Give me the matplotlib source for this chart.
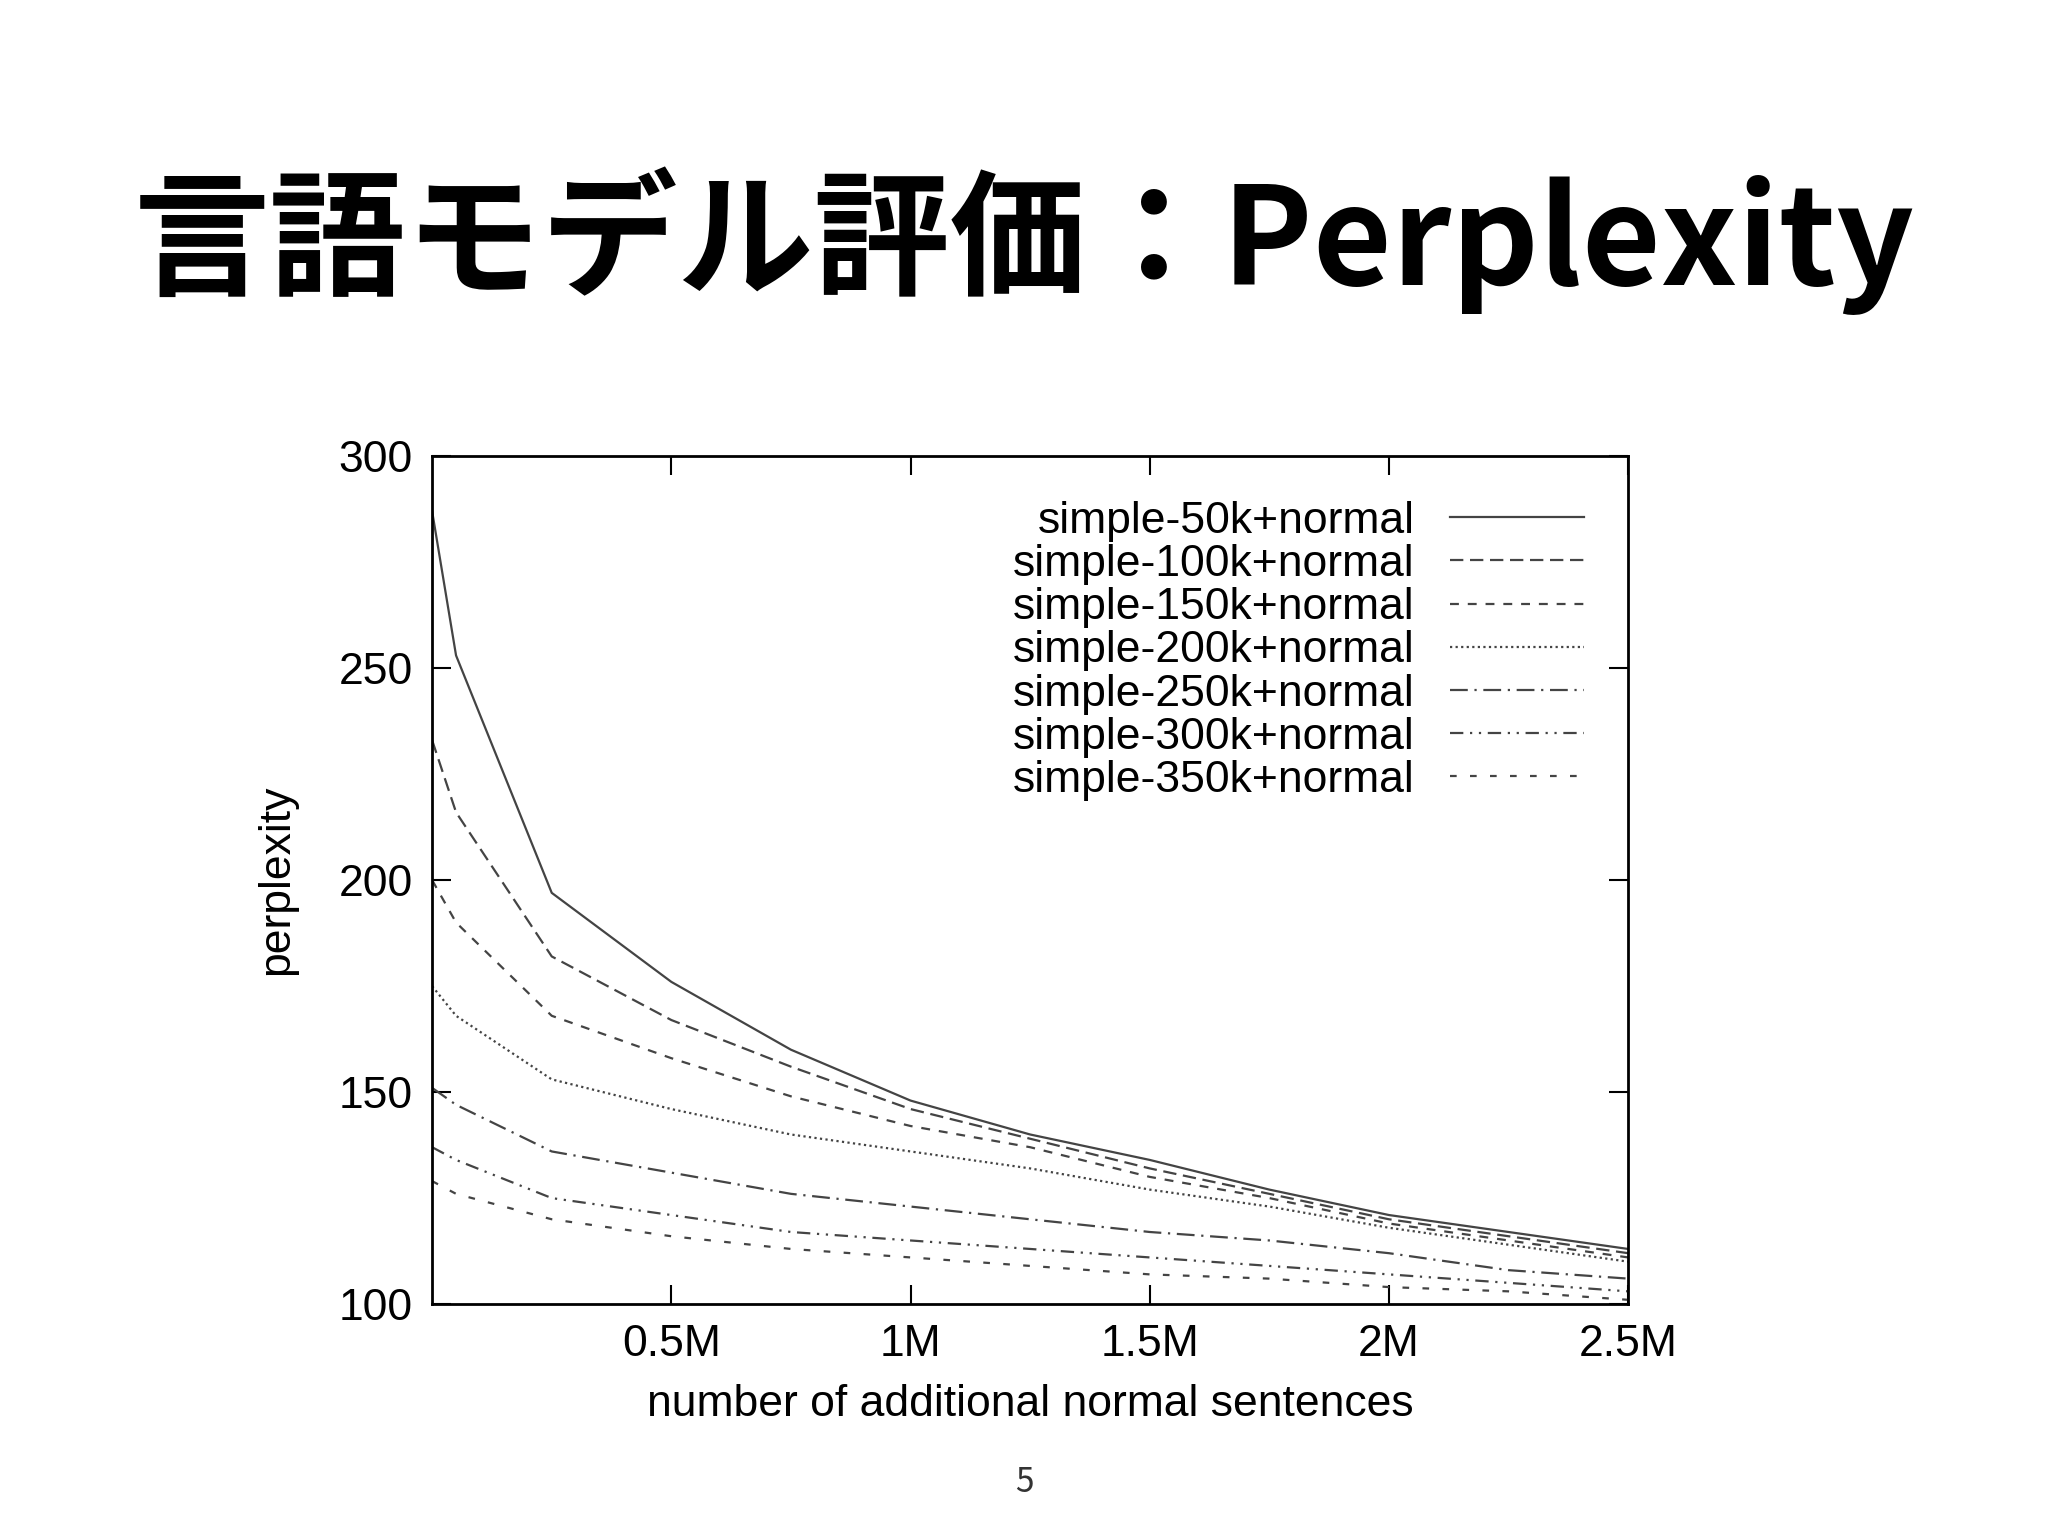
import matplotlib
matplotlib.use('Agg')
import matplotlib.pyplot as plt

plt.rcParams['font.family'] = ['Noto Sans CJK JP', 'DejaVu Sans']

x = [0, 0.05, 0.25, 0.5, 0.75, 1.0, 1.25, 1.5, 1.75, 2.0, 2.25, 2.5]
labels = ['simple-50k+normal', 'simple-100k+normal', 'simple-150k+normal',
          'simple-200k+normal', 'simple-250k+normal', 'simple-300k+normal',
          'simple-350k+normal']
s50 = [287, 253, 197, 176, 160, 148, 140, 134, 127, 121, 117, 113]
s100 = [233, 216, 182, 167, 156, 146, 139, 132, 126, 120, 116, 112]
s150 = [200, 190, 168, 158, 149, 142, 137, 130, 125, 119, 115, 111]
s200 = [175, 168, 153, 146, 140, 136, 132, 127, 123, 118, 114, 110]
s250 = [151, 147, 136, 131, 126, 123, 120, 117, 115, 112, 108, 106]
s300 = [137, 134, 125, 121, 117, 115, 113, 111, 109, 107, 105, 103]
s350 = [129, 126, 120, 116, 113, 111, 109, 107, 106, 104, 103, 101]
series = [s50, s100, s150, s200, s250, s300, s350]
styles = ['-', (0, (6, 3)), (0, (4, 4)), (0, (1, 1.5)), (0, (8, 3, 1, 3)),
          (0, (6, 3, 1, 3, 1, 3)), (0, (3, 6))]
xticks = [0.5, 1.0, 1.5, 2.0, 2.5]
xticklabels = ['0.5M', '1M', '1.5M', '2M', '2.5M']
yticks = [100, 150, 200, 250, 300]

sans = ['Liberation Sans', 'DejaVu Sans']

fig = plt.figure(figsize=(20.48, 15.36), dpi=100)
fig.text(0.5, 0.843, '言語モデル評価：Perplexity', ha='center', va='center',
         fontsize=98, fontweight='bold')
fig.text(0.5, 0.035, '5', ha='center', va='center', fontsize=24, color='#333')

ax = fig.add_axes([0.211, 0.151, 0.584, 0.552])
for ys, lab, ls in zip(series, labels, styles):
    ax.plot(x, ys, linestyle=ls, color='#444', lw=1.6, label=lab)
ax.set_xlim(0, 2.5)
ax.set_ylim(100, 300)
ax.set_xticks(xticks)
ax.set_xticklabels(xticklabels, family=sans)
ax.set_yticks(yticks)
ax.set_yticklabels([str(v) for v in yticks], family=sans)
ax.tick_params(direction='in', length=14, width=1.5, top=True, right=True,
               labelsize=32, pad=14)
for sp in ax.spines.values():
    sp.set_linewidth(2)
ax.set_xlabel('number of additional normal sentences', fontsize=32,
              labelpad=14, family=sans)
ax.set_ylabel('perplexity', fontsize=32, labelpad=30, family=sans)
ax.legend(loc='upper right', frameon=False, markerfirst=False,
          prop={'family': sans, 'size': 32},
          handlelength=3.0, labelspacing=0.05, borderaxespad=0.6)
fig.savefig('out.png')
